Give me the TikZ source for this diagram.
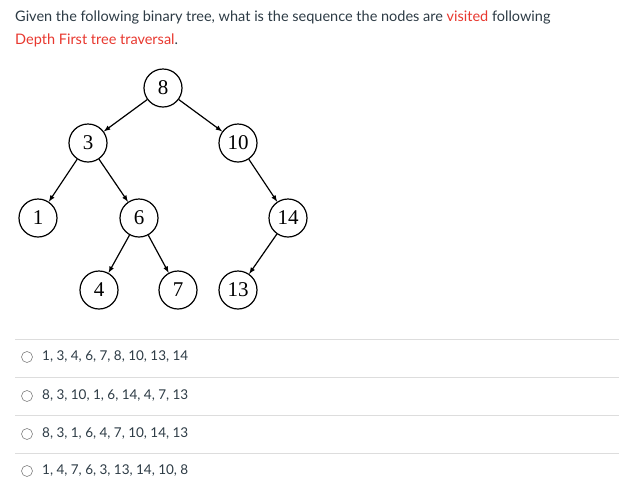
\documentclass[tikz,border=0pt]{standalone}
\usepackage{fontspec}
\setmainfont{Lato}
\newfontfamily\treefont{Liberation Serif}
\definecolor{hl}{HTML}{E8382F}
\definecolor{sep}{HTML}{DDDDDD}
\definecolor{txt}{HTML}{2D3B45}
\begin{document}
\begin{tikzpicture}[x=1pt,y=-1pt,
  tn/.style={circle,draw,line width=1.2pt,minimum size=38pt,inner sep=0pt,font=\treefont\fontsize{21}{21}\selectfont},
  edge/.style={-latex,line width=1.2pt,shorten >=0pt},
  opt/.style={anchor=west,font=\fontsize{13.5}{16}\selectfont,text=txt,inner sep=0pt},
  radio/.style={circle,draw=gray,line width=0.6pt,minimum size=11pt,inner sep=0pt}]
\useasboundingbox (0,0) rectangle (624,491);
\node[anchor=west,inner sep=0pt,font=\fontsize{14.5}{17}\selectfont,text=txt] (q1) at (15,17) {Given the following binary tree, what is the sequence the nodes are \textcolor{hl}{visited} following};
\node[anchor=west,inner sep=0pt,font=\fontsize{14.5}{17}\selectfont,text=hl] (q2) at (15,40) {Depth First tree traversal\textcolor{txt}{.}};
\node[tn] (n8) at (163,88) {8};
\node[tn] (n3) at (88,143) {3};
\node[tn] (n10) at (238,143) {10};
\node[tn] (n1) at (38,218) {1};
\node[tn] (n6) at (139,218) {6};
\node[tn] (n14) at (288,218) {14};
\node[tn] (n4) at (99,290) {4};
\node[tn] (n7) at (178,290) {7};
\node[tn] (n13) at (238,290) {13};
\draw[edge] (n8) -- (n3);
\draw[edge] (n8) -- (n10);
\draw[edge] (n3) -- (n1);
\draw[edge] (n3) -- (n6);
\draw[edge] (n6) -- (n4);
\draw[edge] (n6) -- (n7);
\draw[edge] (n10) -- (n14);
\draw[edge] (n14) -- (n13);
\foreach \y in {339,377,415,453} \draw[sep,line width=0.8pt] (15,\y) -- (619,\y);
\node[radio] (r1) at (27,357) {};
\node[radio] (r2) at (27,396) {};
\node[radio] (r3) at (27,434) {};
\node[radio] (r4) at (27,471) {};
\node[opt] (o1) at (42,357) {1, 3, 4, 6, 7, 8, 10, 13, 14};
\node[opt] (o2) at (42,396) {8, 3, 10, 1, 6, 14, 4, 7, 13};
\node[opt] (o3) at (42,434) {8, 3, 1, 6, 4, 7, 10, 14, 13};
\node[opt] (o4) at (42,471) {1, 4, 7, 6, 3, 13, 14, 10, 8};
\end{tikzpicture}
\end{document}
